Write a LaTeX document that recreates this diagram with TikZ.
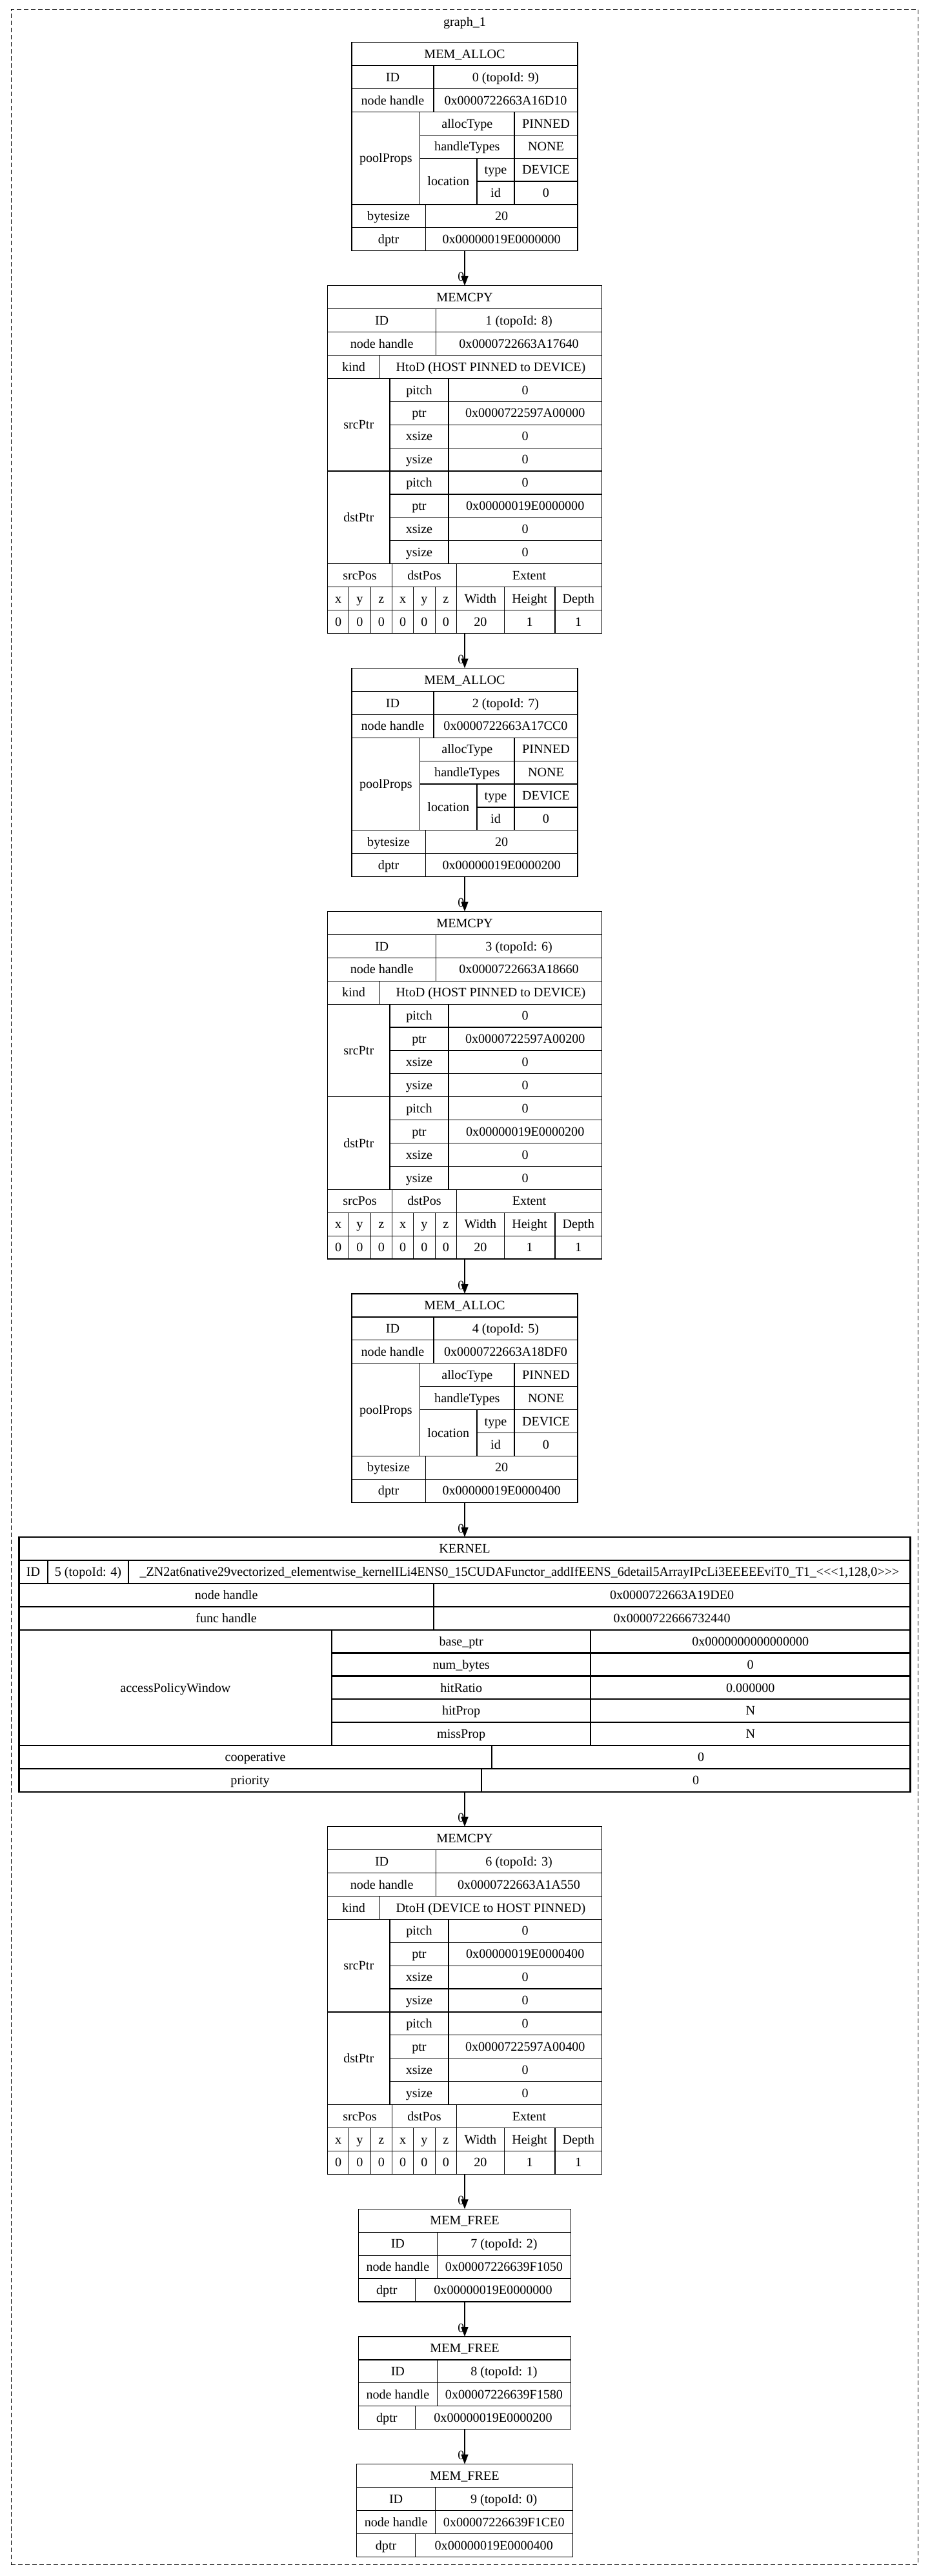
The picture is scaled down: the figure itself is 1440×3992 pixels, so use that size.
\documentclass[tikz,border=0pt]{standalone}
\usepackage{fontspec}
\setmainfont{Liberation Serif}[Ligatures=TeXOff]
\usepackage{tikz}
\usetikzlibrary{
  positioning,
  arrows.meta
}
\newcommand{\tabfont}{\fontsize{10.05pt}{12pt}\selectfont}
\newcommand{\rowh}{35.9}
\newcommand{\pxu}{0.5pt}
\tikzset{
  >=Latex,
  tbl/.style={draw,line width=0.6pt,inner sep=0pt,outer sep=0pt},
  kbox/.style={tbl,line width=1.1pt},
  sepline/.style={line width=0.6pt},
  ksepline/.style={line width=1.1pt},
  celltext/.style={inner sep=0pt,text height=6.7pt,text depth=0pt,font=\tabfont},
  headlbl/.style={inner sep=0pt,anchor=base,font=\tabfont},
  flowedge/.style={-{Triangle[length=7.5pt,width=5.5pt]},line width=0.6pt},
  cluster/.style={draw,dash pattern=on 3.5pt off 2pt,line width=0.5pt,inner sep=0pt}
}
\newcommand{\tcell}[6]{\node[celltext] (#1) at ({(#2+#3)/2},{(#4+#5)/2*\rowh}) {#6};}
% name, top, id, handle, dptr
\newcommand{\allocnode}[5]{%
  \begin{scope}[shift={(545,#2)}]
    \node[tbl,minimum width=350*\pxu,minimum height=9*\rowh*\pxu] (#1) at (175,4.5*\rowh) {};
    \foreach \n in {1,2,3,7,8} \draw[sepline] (0,\n*\rowh) -- (350,\n*\rowh);
    \foreach \n in {4,5} \draw[sepline] (105.7,\n*\rowh) -- (350,\n*\rowh);
    \draw[sepline] (194,6*\rowh) -- (350,6*\rowh);
    \draw[sepline] (127,\rowh) -- (127,3*\rowh);
    \draw[sepline] (105.7,3*\rowh) -- (105.7,7*\rowh);
    \draw[sepline] (252,3*\rowh) -- (252,7*\rowh);
    \draw[sepline] (194,5*\rowh) -- (194,7*\rowh);
    \draw[sepline] (114.3,7*\rowh) -- (114.3,9*\rowh);
    \tcell{#1-title}{0}{350}{0}{1}{MEM\_ALLOC}
    \tcell{#1-id}{0}{127}{1}{2}{ID}
    \tcell{#1-idv}{127}{350}{1}{2}{#3}
    \tcell{#1-nh}{0}{127}{2}{3}{node handle}
    \tcell{#1-nhv}{127}{350}{2}{3}{#4}
    \tcell{#1-pool}{0}{105.7}{3}{7}{poolProps}
    \tcell{#1-at}{105.7}{252}{3}{4}{allocType}
    \tcell{#1-atv}{252}{350}{3}{4}{PINNED}
    \tcell{#1-ht}{105.7}{252}{4}{5}{handleTypes}
    \tcell{#1-htv}{252}{350}{4}{5}{NONE}
    \tcell{#1-loc}{105.7}{194}{5}{7}{location}
    \tcell{#1-ty}{194}{252}{5}{6}{type}
    \tcell{#1-tyv}{252}{350}{5}{6}{DEVICE}
    \tcell{#1-lid}{194}{252}{6}{7}{id}
    \tcell{#1-lidv}{252}{350}{6}{7}{0}
    \tcell{#1-bs}{0}{114.3}{7}{8}{bytesize}
    \tcell{#1-bsv}{114.3}{350}{7}{8}{20}
    \tcell{#1-dp}{0}{114.3}{8}{9}{dptr}
    \tcell{#1-dpv}{114.3}{350}{8}{9}{#5}
  \end{scope}}
% name, top, id, handle, kind, src ptr, dst ptr
\newcommand{\memcpynode}[7]{%
  \begin{scope}[shift={(507.5,#2)}]
    \node[tbl,minimum width=425*\pxu,minimum height=15*\rowh*\pxu] (#1) at (212.5,7.5*\rowh) {};
    \foreach \n in {1,2,3,4,8,12,13,14} \draw[sepline] (0,\n*\rowh) -- (425,\n*\rowh);
    \foreach \n in {5,6,7,9,10,11} \draw[sepline] (96.5,\n*\rowh) -- (425,\n*\rowh);
    \draw[sepline] (168.2,\rowh) -- (168.2,3*\rowh);
    \draw[sepline] (81.1,3*\rowh) -- (81.1,4*\rowh);
    \draw[sepline] (96.5,4*\rowh) -- (96.5,12*\rowh);
    \draw[sepline] (187.5,4*\rowh) -- (187.5,12*\rowh);
    \draw[sepline] (100,12*\rowh) -- (100,15*\rowh);
    \draw[sepline] (200,12*\rowh) -- (200,15*\rowh);
    \foreach \xx in {33.33,66.67,133.33,166.67,273.8,352.5}
      \draw[sepline] (\xx,13*\rowh) -- (\xx,15*\rowh);
    \tcell{#1-title}{0}{425}{0}{1}{MEMCPY}
    \tcell{#1-id}{0}{168.2}{1}{2}{ID}
    \tcell{#1-idv}{168.2}{425}{1}{2}{#3}
    \tcell{#1-nh}{0}{168.2}{2}{3}{node handle}
    \tcell{#1-nhv}{168.2}{425}{2}{3}{#4}
    \tcell{#1-kind}{0}{81.1}{3}{4}{kind}
    \tcell{#1-kindv}{81.1}{425}{3}{4}{#5}
    \tcell{#1-src}{0}{96.5}{4}{8}{srcPtr}
    \tcell{#1-dst}{0}{96.5}{8}{12}{dstPtr}
    \foreach \fname/\fval [count=\i from 4] in {pitch/0,ptr/#6,xsize/0,ysize/0,pitch/0,ptr/#7,xsize/0,ysize/0}{
      \tcell{#1-f\i}{96.5}{187.5}{\i}{\i+1}{\fname}
      \tcell{#1-v\i}{187.5}{425}{\i}{\i+1}{\fval}
    }
    \tcell{#1-sp}{0}{100}{12}{13}{srcPos}
    \tcell{#1-dp}{100}{200}{12}{13}{dstPos}
    \tcell{#1-ext}{200}{425}{12}{13}{Extent}
    \foreach \cc [count=\i from 0] in {x,y,z,x,y,z}{
      \tcell{#1-a\i}{33.33*\i}{33.33*\i+33.33}{13}{14}{\cc}
      \tcell{#1-b\i}{33.33*\i}{33.33*\i+33.33}{14}{15}{0}
    }
    \tcell{#1-w}{200}{273.8}{13}{14}{Width}
    \tcell{#1-h}{273.8}{352.5}{13}{14}{Height}
    \tcell{#1-d}{352.5}{425}{13}{14}{Depth}
    \tcell{#1-wv}{200}{273.8}{14}{15}{20}
    \tcell{#1-hv}{273.8}{352.5}{14}{15}{1}
    \tcell{#1-dv}{352.5}{425}{14}{15}{1}
  \end{scope}}
% name, top, width, id split, dptr split, id, handle, dptr
\newcommand{\freenode}[8]{%
  \begin{scope}[shift={({720-#3/2},#2)}]
    \node[tbl,minimum width=#3*\pxu,minimum height=4*\rowh*\pxu] (#1) at (#3/2,2*\rowh) {};
    \foreach \n in {1,2,3} \draw[sepline] (0,\n*\rowh) -- (#3,\n*\rowh);
    \draw[sepline] (#4,\rowh) -- (#4,3*\rowh);
    \draw[sepline] (#5,3*\rowh) -- (#5,4*\rowh);
    \tcell{#1-title}{0}{#3}{0}{1}{MEM\_FREE}
    \tcell{#1-id}{0}{#4}{1}{2}{ID}
    \tcell{#1-idv}{#4}{#3}{1}{2}{#6}
    \tcell{#1-nh}{0}{#4}{2}{3}{node handle}
    \tcell{#1-nhv}{#4}{#3}{2}{3}{#7}
    \tcell{#1-dp}{0}{#5}{3}{4}{dptr}
    \tcell{#1-dpv}{#5}{#3}{3}{4}{#8}
  \end{scope}}

\begin{document}
\begin{tikzpicture}[x=0.5pt,y=-0.5pt]
    \useasboundingbox (0,0) rectangle (1440,3992);
    \node[cluster,minimum width=1405.4*\pxu,minimum height=3959*\pxu] (graph1) at (720,1994.5) {};
    \node[headlbl] (graph1-title) at (720,41) {graph\_1};

    \allocnode{alloc0}{65.7}{0 (topoId: 9)}{0x0000722663A16D10}{0x00000019E0000000}
    \memcpynode{memcpy1}{442.8}{1 (topoId: 8)}{0x0000722663A17640}{HtoD (HOST PINNED to DEVICE)}{0x0000722597A00000}{0x00000019E0000000}
    \allocnode{alloc2}{1035.5}{2 (topoId: 7)}{0x0000722663A17CC0}{0x00000019E0000200}
    \memcpynode{memcpy3}{1412.5}{3 (topoId: 6)}{0x0000722663A18660}{HtoD (HOST PINNED to DEVICE)}{0x0000722597A00200}{0x00000019E0000200}
    \allocnode{alloc4}{2005}{4 (topoId: 5)}{0x0000722663A18DF0}{0x00000019E0000400}

    \begin{scope}[shift={(29.5,2382)}]
      \node[kbox,minimum width=1381*\pxu,minimum height=11*\rowh*\pxu] (kernel5) at (690.5,5.5*\rowh) {};
      \foreach \n in {1,2,3,4,9,10} \draw[ksepline] (0,\n*\rowh) -- (1381,\n*\rowh);
      \foreach \n in {5,6,7,8} \draw[ksepline] (484.8,\n*\rowh) -- (1381,\n*\rowh);
      \draw[ksepline] (44.2,\rowh) -- (44.2,2*\rowh);
      \draw[ksepline] (169.8,\rowh) -- (169.8,2*\rowh);
      \draw[ksepline] (642.2,2*\rowh) -- (642.2,4*\rowh);
      \draw[ksepline] (484.8,4*\rowh) -- (484.8,9*\rowh);
      \draw[ksepline] (885.5,4*\rowh) -- (885.5,9*\rowh);
      \draw[ksepline] (732.2,9*\rowh) -- (732.2,10*\rowh);
      \draw[ksepline] (716.2,10*\rowh) -- (716.2,11*\rowh);
      \tcell{kernel5-title}{0}{1381}{0}{1}{KERNEL}
      \tcell{kernel5-id}{0}{44.2}{1}{2}{ID}
      \tcell{kernel5-idv}{44.2}{169.8}{1}{2}{5 (topoId: 4)}
      \tcell{kernel5-fn}{169.8}{1381}{1}{2}{\_ZN2at6native29vectorized\_elementwise\_kernelILi4ENS0\_15CUDAFunctor\_addIfEENS\_6detail5ArrayIPcLi3EEEEEviT0\_T1\_<<<1,128,0>>>}
      \tcell{kernel5-nh}{0}{642.2}{2}{3}{node handle}
      \tcell{kernel5-nhv}{642.2}{1381}{2}{3}{0x0000722663A19DE0}
      \tcell{kernel5-fh}{0}{642.2}{3}{4}{func handle}
      \tcell{kernel5-fhv}{642.2}{1381}{3}{4}{0x0000722666732440}
      \tcell{kernel5-apw}{0}{484.8}{4}{9}{accessPolicyWindow}
      \foreach \fname/\fval [count=\i from 4] in {base\_ptr/0x0000000000000000,num\_bytes/0,hitRatio/0.000000,hitProp/N,missProp/N}{
        \tcell{kernel5-f\i}{484.8}{885.5}{\i}{\i+1}{\fname}
        \tcell{kernel5-v\i}{885.5}{1381}{\i}{\i+1}{\fval}
      }
      \tcell{kernel5-coop}{0}{732.2}{9}{10}{cooperative}
      \tcell{kernel5-coopv}{732.2}{1381}{9}{10}{0}
      \tcell{kernel5-prio}{0}{716.2}{10}{11}{priority}
      \tcell{kernel5-priov}{716.2}{1381}{10}{11}{0}
    \end{scope}

    \memcpynode{memcpy6}{2830.7}{6 (topoId: 3)}{0x0000722663A1A550}{DtoH (DEVICE to HOST PINNED)}{0x00000019E0000400}{0x0000722597A00400}
    \freenode{free7}{3423.3}{329.3}{122}{88}{7 (topoId: 2)}{0x00007226639F1050}{0x00000019E0000000}
    \freenode{free8}{3621}{329.3}{122}{88}{8 (topoId: 1)}{0x00007226639F1580}{0x00000019E0000200}
    \freenode{free9}{3818.6}{334.3}{121.5}{90.5}{9 (topoId: 0)}{0x00007226639F1CE0}{0x00000019E0000400}

    \node[headlbl] (lbl1) at ([xshift=-2.75pt,yshift=3.5pt]memcpy1.north) {0};
    \node[headlbl] (lbl2) at ([xshift=-2.75pt,yshift=3.5pt]alloc2.north) {0};
    \node[headlbl] (lbl3) at ([xshift=-2.75pt,yshift=3.5pt]memcpy3.north) {0};
    \node[headlbl] (lbl4) at ([xshift=-2.75pt,yshift=3.5pt]alloc4.north) {0};
    \node[headlbl] (lbl5) at ([xshift=-2.75pt,yshift=3.5pt]kernel5.north) {0};
    \node[headlbl] (lbl6) at ([xshift=-2.75pt,yshift=3.5pt]memcpy6.north) {0};
    \node[headlbl] (lbl7) at ([xshift=-2.75pt,yshift=3.5pt]free7.north) {0};
    \node[headlbl] (lbl8) at ([xshift=-2.75pt,yshift=3.5pt]free8.north) {0};
    \node[headlbl] (lbl9) at ([xshift=-2.75pt,yshift=3.5pt]free9.north) {0};

    \draw[flowedge] (alloc0.south) -- (memcpy1.north);
    \draw[flowedge] (memcpy1.south) -- (alloc2.north);
    \draw[flowedge] (alloc2.south) -- (memcpy3.north);
    \draw[flowedge] (memcpy3.south) -- (alloc4.north);
    \draw[flowedge] (alloc4.south) -- (kernel5.north);
    \draw[flowedge] (kernel5.south) -- (memcpy6.north);
    \draw[flowedge] (memcpy6.south) -- (free7.north);
    \draw[flowedge] (free7.south) -- (free8.north);
    \draw[flowedge] (free8.south) -- (free9.north);
\end{tikzpicture}
\end{document}
